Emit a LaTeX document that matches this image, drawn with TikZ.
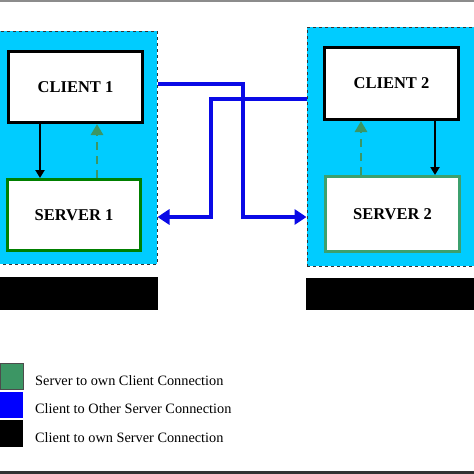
\documentclass[tikz,border=0pt]{standalone}
\usepackage{fontspec}
\setmainfont{Liberation Serif}
\usetikzlibrary{arrows.meta}
\definecolor{panelcyan}{RGB}{0,204,255}
\definecolor{ownblue}{RGB}{10,10,230}
\definecolor{srvgreen}{RGB}{0,128,0}
\definecolor{srvgreentwo}{RGB}{60,160,110}
\definecolor{dashgreen}{RGB}{60,150,100}
\tikzset{
  panel/.style={draw=black!80, fill=panelcyan, dashed, line width=1pt},
  clientbox/.style={draw=black, fill=white, line width=3pt, font=\bfseries\fontsize{16.5}{18}\selectfont},
  serverbox/.style={draw=srvgreen, fill=white, line width=3pt, font=\bfseries\fontsize{16.5}{18}\selectfont},
  ownline/.style={draw=black, line width=2.2pt, -{Triangle[length=8pt,width=9pt]}},
  backline/.style={draw=dashgreen, line width=2.8pt, dash pattern=on 8pt off 6pt, -{Triangle[length=11pt,width=12pt]}},
  otherline/.style={draw=ownblue, line width=3.2pt, -{Triangle[length=12pt,width=15pt]}},
  legtext/.style={anchor=base west, inner sep=0pt, font=\fontsize{14.3}{16}\selectfont}
}
\begin{document}
\begin{tikzpicture}[x=1pt,y=-1pt]
    \useasboundingbox (0,0) rectangle (474,474);
    \fill[black!45] (0,0) rectangle (474,2);
    \fill[black!80] (0,471) rectangle (474,474);
    % two machines
    \node[panel, minimum width=160pt, minimum height=233pt] (panelL) at (77,147.5) {};
    \node[panel, minimum width=170pt, minimum height=239pt] (panelR) at (392,146.5) {};
    \node[clientbox, minimum width=134pt, minimum height=71pt] (cl1) at (75.5,87) {CLIENT 1};
    \node[serverbox, minimum width=133pt, minimum height=71pt] (sv1) at (74,215) {SERVER 1};
    \node[clientbox, minimum width=134pt, minimum height=72pt] (cl2) at (391.5,83.5) {CLIENT 2};
    \node[serverbox, draw=srvgreentwo, minimum width=134pt, minimum height=75pt] (sv2) at (392.5,214) {SERVER 2};
    \fill (0,277) rectangle (158,310);
    \fill (306,278) rectangle (474,310);
    % own connections
    \draw[ownline] (cl1.south -| 40,0) -- (sv1.north -| 40,0);
    \draw[backline] (sv1.north -| 97,0) -- (cl1.south -| 97,0);
    \draw[ownline] (cl2.south -| 435,0) -- (sv2.north -| 435,0);
    \draw[backline] (sv2.north -| 361,0) -- (cl2.south -| 361,0);
    % other connections
    \draw[otherline, line join=miter] (panelL.east |- 0,84) -- (243,84) -- (243,217) -- (panelR.west |- 0,217);
    \draw[otherline, line join=miter] (panelR.west |- 0,99) -- (211,99) -- (211,217) -- (panelL.east |- 0,217);
    % legend
    \filldraw[fill=dashgreen, draw=black!70, line width=1pt] (0,363) rectangle (23,389);
    \fill[blue] (0,392) rectangle (23,418);
    \fill[black] (0,420) rectangle (23,447);
    \node[legtext] (lg1) at (35,385) {Server to own Client Connection};
    \node[legtext] (lg2) at (35,413) {Client to Other Server Connection};
    \node[legtext] (lg3) at (35,442) {Client to own Server Connection};
\end{tikzpicture}
\end{document}
